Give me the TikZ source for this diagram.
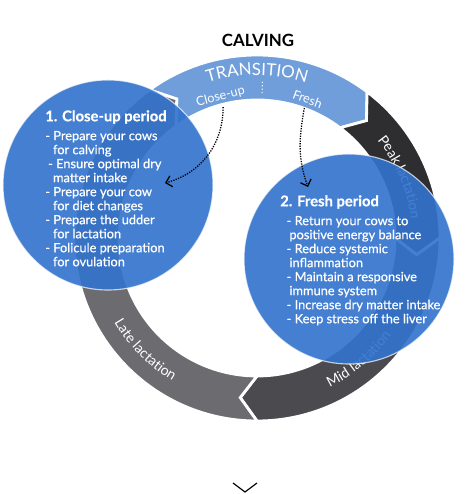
\documentclass[tikz,border=0pt]{standalone}
\usepackage{fontspec}
\setmainfont{Lato}
\newfontfamily\periodfont[FakeBold=0.6]{Lato}
\usetikzlibrary{positioning,arrows.meta,decorations.text}

\definecolor{transblue}{RGB}{111,158,218}
\definecolor{circblue}{RGB}{50,115,205}
\definecolor{peakgrey}{RGB}{46,46,48}
\definecolor{midgrey}{RGB}{75,75,79}
\definecolor{lategrey}{RGB}{108,108,112}

\newcommand{\ringout}{183}
\newcommand{\ringmid}{160.5}
\newcommand{\ringin}{138}
\newcommand{\bandfont}{\fontsize{10}{12}\selectfont}
\newcommand{\transfont}{\fontsize{12}{14}\selectfont}

% one band of the lactation ring: start angle, end angle, colour
\newcommand{\phaseband}[3]{%
  \fill[#3, draw=white, line width=2pt, line join=miter]
    (#1:\ringout) arc[start angle=#1, end angle=#2, radius=\ringout]
    -- (#2-6:\ringmid) -- (#2:\ringin)
    arc[start angle=#2, end angle=#1, radius=\ringin]
    -- (#1-6:\ringmid) -- cycle;}

\begin{document}
\begin{tikzpicture}[
    x=0.025cm, y=0.025cm,
    period/.style={circle, fill=circblue, fill opacity=0.91, draw=white, draw opacity=0.7, line width=0.8pt, minimum size=5.25cm, inner sep=0pt},
    periodtext/.style={text=white, align=left, inner sep=0pt, anchor=north west, font=\periodfont\fontsize{9.1}{9.96}\selectfont},
    phase/.style={text=white, font=\fontsize{9}{11}\selectfont},
    ring label/.style={decorate, decoration={text along path, text align=center, text color=white, text={#1}}},
    flow/.style={line width=0.9pt, dash pattern=on 0.9pt off 0.9pt, -{Straight Barb[length=4pt,width=8pt]}}
  ]

  \path[use as bounding box, fill=white] (0,0) rectangle (474,494);

  % Lactation ring
  \begin{scope}[shift={(257,256)}]
    \phaseband{126}{53}{transblue}
    \phaseband{53}{0}{peakgrey}
    \phaseband{0}{-90}{midgrey}
    \phaseband{-90}{-234}{lategrey}

    % Band labels
    \path[ring label={|\transfont|TRANSITION}] (125:163) arc[start angle=125, end angle=55, radius=163];
    \path[ring label={|\bandfont|Peak lactation}] (50:155) arc[start angle=50, end angle=-4, radius=155];
    \path[ring label={|\bandfont|Mid lactation}] (-92:166) arc[start angle=-92, end angle=-8, radius=166];
    \path[ring label={|\bandfont|Late lactation}] (200:166) arc[start angle=200, end angle=250, radius=166];

    \node[phase, rotate=14.5] (closeup_lbl) at (104.5:146) {Close-up};
    \node[phase, rotate=-20] (fresh_lbl) at (70:148) {Fresh};
    \draw[white, line width=0.8pt, dash pattern=on 0.8pt off 1.6pt] (88:145) -- (88:157);
  \end{scope}

  \node[font=\fontsize{12}{14}\selectfont\bfseries] (calving) at (258,454) {CALVING};

  % Period circles
  \node[period] (closeup_circle) at (108,309) {};
  \node[period] (fresh_circle) at (349,235) {};

  \node[periodtext] (closeup_text) at (45,384) {%
    {\fontsize{10.5}{12}\selectfont\bfseries 1. Close-up period}\\[3.5pt]
    - Prepare your cows\\
    \hspace*{5.5pt}for calving\\
    \hspace*{2pt}- Ensure optimal dry\\
    \hspace*{5.5pt}matter intake\\
    - Prepare your cow\\
    \hspace*{5.5pt}for diet changes\\
    - Prepare the udder\\
    \hspace*{5.5pt}for lactation\\
    - Folicule preparation\\
    \hspace*{5.5pt}for ovulation};

  \node[periodtext] (fresh_text) at (280,299) {%
    {\fontsize{10.5}{12}\selectfont\bfseries 2. Fresh period}\\[3.5pt]
    \hspace*{4.5pt}- Return your cows to\\
    \hspace*{6.5pt}positive energy balance\\
    \hspace*{4.5pt}- Reduce systemic\\
    \hspace*{6.5pt}inflammation\\
    \hspace*{4.5pt}- Maintain a responsive\\
    \hspace*{6.5pt}immune system\\
    \hspace*{4.5pt}- Increase dry matter intake\\
    \hspace*{4.5pt}- Keep stress off the liver};

  % Arrows from the transition phases into the circles
  \coordinate (closeup_end) at (165,311);
  \coordinate (fresh_end) at (308,307);
  \draw[flow] (closeup_lbl.south) to[out=-90, in=15] (closeup_end);
  \draw[flow] (fresh_lbl.south) to[out=-100, in=110] (fresh_end);

  % Scroll mark
  \draw[line width=0.8pt] (233,11) -- (245,2) -- (257,11);

\end{tikzpicture}
\end{document}
